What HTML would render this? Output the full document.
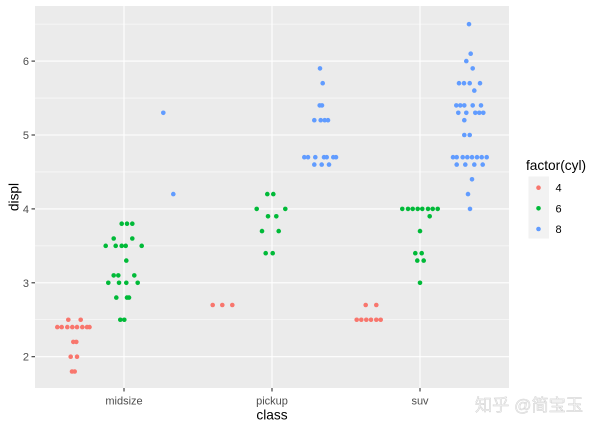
<!DOCTYPE html>
<html>
<head>
<meta charset="utf-8">
<style>
html,body{margin:0;padding:0;background:#fff;}
svg{display:block;}
text{font-family:"Liberation Sans","Noto Sans CJK SC",sans-serif;}
</style>
</head>
<body>
<svg width="600" height="429" viewBox="0 0 600 429" xmlns="http://www.w3.org/2000/svg">
<rect x="0" y="0" width="600" height="429" fill="#ffffff"/>
<!-- panel -->
<rect x="35" y="6" width="474" height="382" fill="#EBEBEB"/>
<!-- minor grid -->
<g stroke="#ffffff" stroke-width="0.55">
<line x1="35" x2="509" y1="319.75" y2="319.75"/>
<line x1="35" x2="509" y1="245.85" y2="245.85"/>
<line x1="35" x2="509" y1="171.95" y2="171.95"/>
<line x1="35" x2="509" y1="98.05" y2="98.05"/>
<line x1="35" x2="509" y1="24.15" y2="24.15"/>
</g>
<!-- major grid -->
<g stroke="#ffffff" stroke-width="1.1">
<line x1="35" x2="509" y1="356.7" y2="356.7"/>
<line x1="35" x2="509" y1="282.8" y2="282.8"/>
<line x1="35" x2="509" y1="208.9" y2="208.9"/>
<line x1="35" x2="509" y1="135" y2="135"/>
<line x1="35" x2="509" y1="61.1" y2="61.1"/>
<line x1="124" x2="124" y1="6" y2="388"/>
<line x1="272" x2="272" y1="6" y2="388"/>
<line x1="420" x2="420" y1="6" y2="388"/>
</g>
<!-- red points -->
<g fill="#F8766D">
<circle cx="68.3" cy="319.75" r="2.3"/><circle cx="80.7" cy="319.75" r="2.3"/>
<circle cx="57.3" cy="327.1" r="2.3"/><circle cx="61.7" cy="327.1" r="2.3"/><circle cx="67.3" cy="327.1" r="2.3"/><circle cx="72.3" cy="327.1" r="2.3"/><circle cx="77" cy="327.1" r="2.3"/><circle cx="82.3" cy="327.1" r="2.3"/><circle cx="87" cy="327.1" r="2.3"/><circle cx="89.5" cy="327.1" r="2.3"/>
<circle cx="73.3" cy="341.9" r="2.3"/><circle cx="76.3" cy="341.9" r="2.3"/>
<circle cx="70.7" cy="356.7" r="2.3"/><circle cx="77" cy="356.7" r="2.3"/>
<circle cx="72" cy="371.5" r="2.3"/><circle cx="74.7" cy="371.5" r="2.3"/>
<circle cx="212.7" cy="305" r="2.3"/><circle cx="222.3" cy="305" r="2.3"/><circle cx="232.3" cy="305" r="2.3"/>
<circle cx="365.7" cy="305" r="2.3"/><circle cx="376.3" cy="305" r="2.3"/>
<circle cx="356.7" cy="319.75" r="2.3"/><circle cx="361.3" cy="319.75" r="2.3"/><circle cx="366.3" cy="319.75" r="2.3"/><circle cx="371" cy="319.75" r="2.3"/><circle cx="376.3" cy="319.75" r="2.3"/><circle cx="380.7" cy="319.75" r="2.3"/>
</g>
<!-- green points -->
<g fill="#00BA38">
<circle cx="121.7" cy="223.7" r="2.3"/><circle cx="127" cy="223.7" r="2.3"/><circle cx="132.3" cy="223.7" r="2.3"/>
<circle cx="113.7" cy="238.5" r="2.3"/><circle cx="132.3" cy="238.5" r="2.3"/>
<circle cx="105.7" cy="245.85" r="2.3"/><circle cx="115.7" cy="245.85" r="2.3"/><circle cx="121.7" cy="245.85" r="2.3"/><circle cx="125.7" cy="245.85" r="2.3"/><circle cx="141.7" cy="245.85" r="2.3"/>
<circle cx="126.3" cy="260.6" r="2.3"/>
<circle cx="113.7" cy="275.4" r="2.3"/><circle cx="118.3" cy="275.4" r="2.3"/><circle cx="134.3" cy="275.4" r="2.3"/>
<circle cx="108.3" cy="282.8" r="2.3"/><circle cx="119" cy="282.8" r="2.3"/><circle cx="126.3" cy="282.8" r="2.3"/><circle cx="137.7" cy="282.8" r="2.3"/>
<circle cx="116.3" cy="297.6" r="2.3"/><circle cx="127" cy="297.6" r="2.3"/><circle cx="129" cy="297.6" r="2.3"/>
<circle cx="120.3" cy="319.75" r="2.3"/><circle cx="124.3" cy="319.75" r="2.3"/>
<circle cx="267.3" cy="194.1" r="2.3"/><circle cx="273.3" cy="194.1" r="2.3"/>
<circle cx="256.7" cy="208.9" r="2.3"/><circle cx="285.3" cy="208.9" r="2.3"/>
<circle cx="268" cy="216.3" r="2.3"/><circle cx="276.3" cy="216.3" r="2.3"/>
<circle cx="262" cy="231.1" r="2.3"/><circle cx="278.7" cy="231.1" r="2.3"/>
<circle cx="265.7" cy="253.2" r="2.3"/><circle cx="272.7" cy="253.2" r="2.3"/>
<circle cx="402.3" cy="208.9" r="2.3"/><circle cx="408" cy="208.9" r="2.3"/><circle cx="412.7" cy="208.9" r="2.3"/><circle cx="417.7" cy="208.9" r="2.3"/><circle cx="422.3" cy="208.9" r="2.3"/><circle cx="428" cy="208.9" r="2.3"/><circle cx="432.7" cy="208.9" r="2.3"/><circle cx="437.7" cy="208.9" r="2.3"/>
<circle cx="429.7" cy="216.3" r="2.3"/>
<circle cx="420" cy="231.1" r="2.3"/>
<circle cx="415.3" cy="253.2" r="2.3"/><circle cx="421.7" cy="253.2" r="2.3"/>
<circle cx="417.3" cy="260.6" r="2.3"/><circle cx="423.7" cy="260.6" r="2.3"/>
<circle cx="420" cy="282.8" r="2.3"/>
</g>
<!-- blue points -->
<g fill="#619CFF">
<circle cx="163.3" cy="112.8" r="2.3"/><circle cx="173.3" cy="194.1" r="2.3"/>
<circle cx="320" cy="68.4" r="2.3"/>
<circle cx="322.7" cy="83.2" r="2.3"/>
<circle cx="319.7" cy="105.4" r="2.3"/><circle cx="322" cy="105.4" r="2.3"/>
<circle cx="314.3" cy="120.2" r="2.3"/><circle cx="320.7" cy="120.2" r="2.3"/><circle cx="324.7" cy="120.2" r="2.3"/><circle cx="328" cy="120.2" r="2.3"/>
<circle cx="304.3" cy="157.2" r="2.3"/><circle cx="308" cy="157.2" r="2.3"/><circle cx="315.3" cy="157.2" r="2.3"/><circle cx="324" cy="157.2" r="2.3"/><circle cx="326.7" cy="157.2" r="2.3"/><circle cx="333.3" cy="157.2" r="2.3"/><circle cx="336" cy="157.2" r="2.3"/>
<circle cx="314.3" cy="164.6" r="2.3"/><circle cx="321.7" cy="164.6" r="2.3"/><circle cx="329" cy="164.6" r="2.3"/>
<circle cx="469" cy="24.15" r="2.3"/>
<circle cx="470.7" cy="53.7" r="2.3"/>
<circle cx="466.3" cy="61.1" r="2.3"/>
<circle cx="472.7" cy="68.4" r="2.3"/>
<circle cx="459" cy="83.2" r="2.3"/><circle cx="464" cy="83.2" r="2.3"/><circle cx="469.7" cy="83.2" r="2.3"/><circle cx="480" cy="83.2" r="2.3"/>
<circle cx="474.3" cy="90.6" r="2.3"/>
<circle cx="456.3" cy="105.4" r="2.3"/><circle cx="460.3" cy="105.4" r="2.3"/><circle cx="464.3" cy="105.4" r="2.3"/><circle cx="472.7" cy="105.4" r="2.3"/><circle cx="481" cy="105.4" r="2.3"/>
<circle cx="458.3" cy="112.8" r="2.3"/><circle cx="466.3" cy="112.8" r="2.3"/><circle cx="475.3" cy="112.8" r="2.3"/><circle cx="479.3" cy="112.8" r="2.3"/><circle cx="483.3" cy="112.8" r="2.3"/>
<circle cx="464.3" cy="120.2" r="2.3"/>
<circle cx="464.3" cy="135" r="2.3"/><circle cx="469.7" cy="135" r="2.3"/>
<circle cx="453" cy="157.2" r="2.3"/><circle cx="456.7" cy="157.2" r="2.3"/><circle cx="462.7" cy="157.2" r="2.3"/><circle cx="467.3" cy="157.2" r="2.3"/><circle cx="472" cy="157.2" r="2.3"/><circle cx="477" cy="157.2" r="2.3"/><circle cx="481.7" cy="157.2" r="2.3"/><circle cx="486.7" cy="157.2" r="2.3"/>
<circle cx="456.7" cy="164.6" r="2.3"/><circle cx="465.3" cy="164.6" r="2.3"/><circle cx="474.3" cy="164.6" r="2.3"/><circle cx="482.7" cy="164.6" r="2.3"/>
<circle cx="472" cy="179.3" r="2.3"/>
<circle cx="468" cy="194.1" r="2.3"/>
<circle cx="470" cy="208.9" r="2.3"/>
</g>
<!-- axis ticks -->
<g stroke="#333333" stroke-width="1.1">
<line x1="31.5" x2="35" y1="356.7" y2="356.7"/>
<line x1="31.5" x2="35" y1="282.8" y2="282.8"/>
<line x1="31.5" x2="35" y1="208.9" y2="208.9"/>
<line x1="31.5" x2="35" y1="135" y2="135"/>
<line x1="31.5" x2="35" y1="61.1" y2="61.1"/>
<line x1="124" x2="124" y1="388" y2="391.5"/>
<line x1="272" x2="272" y1="388" y2="391.5"/>
<line x1="420" x2="420" y1="388" y2="391.5"/>
</g>
<g fill="#4D4D4D" font-size="11" text-anchor="end">
<text x="29" y="360.7">2</text>
<text x="29" y="286.8">3</text>
<text x="29" y="212.9">4</text>
<text x="29" y="139">5</text>
<text x="29" y="65.1">6</text>
</g>
<g fill="#4D4D4D" font-size="11" text-anchor="middle">
<text x="124" y="404.5">midsize</text>
<text x="272" y="404.5">pickup</text>
<text x="420" y="404.5">suv</text>
</g>
<text x="272" y="419.5" font-size="13.7" text-anchor="middle" fill="#000">class</text>
<text transform="translate(18.5,197) rotate(-90)" font-size="13.7" text-anchor="middle" fill="#000">displ</text>
<!-- legend -->
<text x="526" y="170" font-size="13.7" fill="#000">factor(cyl)</text>
<rect x="528.5" y="176.5" width="20.5" height="62" fill="#F2F2F2"/>
<circle cx="538.5" cy="187.7" r="2.3" fill="#F8766D"/>
<circle cx="538.5" cy="208.3" r="2.3" fill="#00BA38"/>
<circle cx="538.5" cy="229" r="2.3" fill="#619CFF"/>
<g font-size="11" fill="#000">
<text x="555.5" y="191.7">4</text>
<text x="555.5" y="212.3">6</text>
<text x="555.5" y="233">8</text>
</g>
<!-- watermark -->
<text x="475" y="411" font-size="17" fill="#f4f4f4" stroke="#cfcfcf" stroke-width="0.45" textLength="108" lengthAdjust="spacingAndGlyphs">知乎 @简宝玉</text>
</svg>
</body>
</html>
